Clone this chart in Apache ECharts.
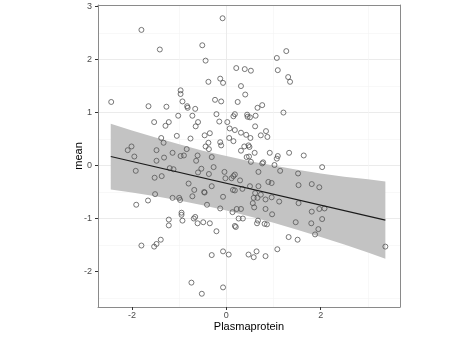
<!DOCTYPE html>
<html><head><meta charset="utf-8">
<script src="https://cdn.jsdelivr.net/npm/echarts@6/dist/echarts.min.js"></script>
<style>html,body{margin:0;padding:0;background:#fff}#c{width:474px;height:338px}</style>
</head><body><div id="c"></div>
<script>
// Observed points (Plasmaprotein, mean)
const plasmaX = [-1.80,-1.41,-2.44,-1.65,-1.27,-1.53,-1.22,-1.29,-1.38,-1.33,-2.01,-2.09,-1.48,-1.95,-1.14,-1.32,
 -0.08,-0.51,-0.44,0.21,0.39,-0.13,-0.38,-0.07,0.31,-0.97,-0.97,0.40,-0.24,-0.11,0.24,-0.93,-0.83,-0.82,-0.66,-1.02,
 -0.72,-0.21,0.18,0.15,0.44,0.45,0.50,-0.60,-0.15,0.02,-0.65,0.07,0.18,0.31,0.42,-0.35,-0.46,-1.05,-0.76,0.06,0.15,
 -0.38,-0.13,-0.11,-0.44,-0.37,-0.84,0.31,0.38,0.47,-0.61,-0.90,-0.97,-0.31,0.43,1.27,1.07,1.09,0.52,1.31,1.35,0.76,
 0.66,1.21,0.62,0.61,0.84,0.73,0.87,0.51,0.49,0.60,0.92,1.09,1.07,1.33,1.64,0.48,-1.48,-1.20,-1.12,-1.92,-1.52,-1.37,
 -1.51,-1.14,-1.00,-0.98,-1.66,-1.91,-1.22,-1.22,-1.39,-1.48,-1.53,-1.80,-0.64,-0.60,-0.53,-0.37,-0.27,-0.04,0.18,
 0.15,-0.02,0.29,-0.80,-0.31,-0.68,-0.47,-0.46,0.14,0.18,-0.72,-0.07,-0.41,-0.13,0.22,0.31,0.13,-0.95,-0.95,-0.69,
 -0.66,-0.93,-0.61,-0.49,-0.35,0.26,0.35,0.18,0.20,-0.21,-0.31,-0.07,0.05,0.47,-0.74,-0.07,-0.52,0.68,1.14,1.52,
 0.89,0.96,0.50,0.68,1.53,1.81,0.58,0.66,0.73,0.61,0.83,0.96,0.56,0.59,1.12,1.53,0.83,0.97,0.67,0.65,0.81,0.86,
 1.47,1.81,1.80,1.88,1.32,1.51,1.08,0.64,0.58,0.83,0.52,0.76,0.78,1.02,0.34,0.11,2.03,1.97,1.97,2.08,2.03,1.95,3.37];
const meanY = [2.56,2.19,1.20,1.12,1.11,0.82,0.82,0.75,0.52,0.43,0.36,0.29,0.29,0.17,0.24,0.15,
 2.78,2.27,1.98,1.84,1.82,1.64,1.58,1.56,1.50,1.42,1.35,1.34,1.24,1.21,1.20,1.21,1.12,1.09,1.07,0.94,
 0.94,0.97,0.97,0.93,0.96,0.92,0.91,0.82,0.83,0.82,0.74,0.70,0.67,0.62,0.58,0.61,0.57,0.56,0.51,0.52,0.46,
 0.43,0.44,0.38,0.36,0.31,0.31,0.28,0.36,0.38,0.19,0.19,0.18,0.16,0.16,2.16,2.03,1.80,1.79,1.67,1.58,1.14,
 1.09,1.00,0.94,0.74,0.65,0.57,0.54,0.52,0.35,0.24,0.24,0.18,0.13,0.24,0.19,0.17,0.09,-0.05,-0.07,-0.10,-0.23,-0.20,
 -0.54,-0.61,-0.61,-0.65,-0.66,-0.74,-1.02,-1.13,-1.40,-1.48,-1.53,-1.51,0.09,-0.13,-0.06,-0.16,-0.03,-0.12,-0.17,
 -0.20,-0.24,-0.28,-0.34,-0.39,-0.46,-0.50,-0.51,-0.46,-0.47,-0.58,-0.59,-0.74,-0.81,-0.82,-0.82,-0.88,-0.89,-0.93,-1.00,
 -0.97,-1.04,-1.09,-1.07,-1.09,-1.00,-1.00,-1.14,-1.16,-1.24,-1.69,-1.62,-1.68,-1.68,-2.21,-2.30,-2.42,-0.12,-0.10,-0.15,
 -0.31,-0.33,-0.39,-0.39,-0.37,-0.35,-0.61,-0.61,-0.55,-0.52,-0.64,-0.60,-0.71,-0.79,-0.68,-0.71,-0.82,-0.92,-1.04,-1.09,-1.10,-1.11,
 -1.07,-0.87,-1.09,-1.30,-1.35,-1.40,-1.58,-1.62,-1.73,-1.71,0.07,0.04,0.06,0.01,-0.44,-0.24,-0.03,-0.41,-0.82,-0.81,-1.01,-1.20,-1.53];

// Fitted line and confidence band
const fitX = [-2.45, 3.37];
const fitY = [0.17, -1.03];
const bandX = [-2.45,-2,-1.5,-1,-0.5,0,0.5,1,1.5,2,2.5,3,3.37];
const bandUpper = [0.79,0.66,0.53,0.40,0.28,0.18,0.08,0.00,-0.08,-0.15,-0.21,-0.26,-0.30];
const bandLower = [-0.45,-0.51,-0.58,-0.66,-0.75,-0.85,-0.96,-1.08,-1.21,-1.35,-1.49,-1.64,-1.76];

// Axis ticks
const xTicks = [-2, 0, 2];
const yTicks = [-2, -1, 0, 1, 2, 3];
const xRange = [-2.72, 3.68];
const yRange = [-2.67, 3.03];

const points = plasmaX.map((x, i) => [x, meanY[i]]);
const fitData = fitX.map((x, i) => [x, fitY[i]]);

const font = 'Liberation Sans, Arial, sans-serif';
const borderCol = '#8a8a8a';
const chart = echarts.init(document.getElementById('c'), null, {renderer: 'canvas'});

const baseX = {
  type: 'value', min: xRange[0], max: xRange[1], splitNumber: 3
};
const baseY = {
  type: 'value', min: yRange[0], max: yRange[1], splitNumber: 5
};

chart.setOption({
  animation: false,
  backgroundColor: '#ffffff',
  textStyle: {fontFamily: font},
  grid: {left: 98, right: 74, top: 5, bottom: 31, containLabel: false},
  xAxis: [
    Object.assign({}, baseX, {
      position: 'bottom',
      axisLine: {show: true, onZero: false, lineStyle: {color: borderCol, width: 1}},
      axisTick: {show: true, customValues: xTicks, length: 3, lineStyle: {color: '#333333'}},
      axisLabel: {customValues: xTicks, margin: 4, fontSize: 9, color: '#4d4d4d', fontFamily: font,
        formatter: v => String(v)},
      splitLine: {show: true, showMinLine: false, showMaxLine: false, lineStyle: {color: '#ebebeb', width: 1}},
      minorTick: {show: false, splitNumber: 2},
      minorSplitLine: {show: true, lineStyle: {color: '#f4f4f4', width: 0.6}},
      name: 'Plasmaprotein', nameLocation: 'middle', nameGap: 14, nameMoveOverlap: false,
      nameTextStyle: {fontSize: 11, color: '#000000', fontFamily: font}
    }),
    Object.assign({}, baseX, {
      position: 'top',
      axisLine: {show: true, onZero: false, lineStyle: {color: borderCol, width: 1}},
      axisTick: {show: false}, axisLabel: {show: false}, splitLine: {show: false}
    })
  ],
  yAxis: [
    Object.assign({}, baseY, {
      position: 'left',
      axisLine: {show: true, onZero: false, lineStyle: {color: borderCol, width: 1}},
      axisTick: {show: true, customValues: yTicks, length: 3, lineStyle: {color: '#333333'}},
      axisLabel: {customValues: yTicks, margin: 6, fontSize: 9, color: '#4d4d4d', fontFamily: font,
        formatter: v => String(v)},
      splitLine: {show: true, showMinLine: false, showMaxLine: false, lineStyle: {color: '#ebebeb', width: 1}},
      minorTick: {show: false, splitNumber: 2},
      minorSplitLine: {show: true, lineStyle: {color: '#f4f4f4', width: 0.6}},
      name: 'mean', nameLocation: 'middle', nameGap: 14, nameMoveOverlap: false,
      nameTextStyle: {fontSize: 11, color: '#000000', fontFamily: font}
    }),
    Object.assign({}, baseY, {
      position: 'right',
      axisLine: {show: true, onZero: false, lineStyle: {color: borderCol, width: 1}},
      axisTick: {show: false}, axisLabel: {show: false}, splitLine: {show: false}
    })
  ],
  series: [
    {
      type: 'custom',
      xAxisIndex: 0, yAxisIndex: 0,
      silent: true,
      z: 2,
      data: [[0, 0]],
      renderItem: function (params, api) {
        const pts = [];
        for (let i = 0; i < bandX.length; i++) pts.push(api.coord([bandX[i], bandUpper[i]]));
        for (let i = bandX.length - 1; i >= 0; i--) pts.push(api.coord([bandX[i], bandLower[i]]));
        return {type: 'polygon', shape: {points: pts}, style: {fill: '#c3c3c3', stroke: null}};
      }
    },
    {
      type: 'scatter',
      xAxisIndex: 0, yAxisIndex: 0,
      z: 3,
      symbol: 'circle',
      symbolSize: 5,
      data: points,
      itemStyle: {color: 'rgba(0,0,0,0)', borderColor: '#555555', borderWidth: 0.8, opacity: 1}
    },
    {
      type: 'line',
      xAxisIndex: 0, yAxisIndex: 0,
      z: 4,
      data: fitData,
      showSymbol: false,
      symbol: 'none',
      lineStyle: {color: '#1a1a1a', width: 1.1}
    }
  ]
});
</script>
</body></html>
